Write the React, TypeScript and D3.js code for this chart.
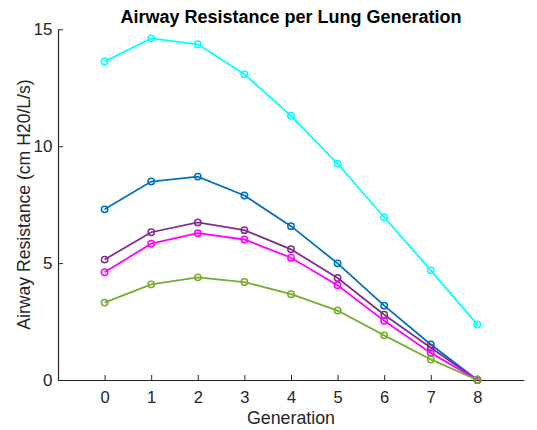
import { useRef, useEffect } from 'react';
import * as d3 from 'd3';

const generations = [0, 1, 2, 3, 4, 5, 6, 7, 8];
const cyanSeries = [13.62, 14.61, 14.36, 13.08, 11.3, 9.25, 6.96, 4.69, 2.37];
const blueSeries = [7.3, 8.49, 8.7, 7.89, 6.58, 4.99, 3.18, 1.52, 0];
const purpleSeries = [5.15, 6.32, 6.74, 6.41, 5.59, 4.36, 2.79, 1.38, 0];
const magentaSeries = [4.61, 5.83, 6.28, 6.01, 5.23, 4.05, 2.53, 1.16, 0];
const greenSeries = [3.31, 4.09, 4.39, 4.19, 3.67, 2.97, 1.91, 0.88, 0];
const yTicks = [0, 5, 10, 15];

const series = [
    { values: cyanSeries, color: '#00ffff' },
    { values: blueSeries, color: '#0072bd' },
    { values: purpleSeries, color: '#7e2f8e' },
    { values: magentaSeries, color: '#ff00ff' },
    { values: greenSeries, color: '#77ac30' },
];

export default function App() {
    const svgRef = useRef<SVGSVGElement>(null);

    useEffect(() => {
        if (!svgRef.current) return;
        const svg = d3.select(svgRef.current);
        svg.selectAll('*').remove();

        const left = 58, right = 524, top = 29.3, bottom = 380;
        const font = 'Liberation Sans, Arial, sans-serif';
        const axisColor = '#262626';

        const x = d3.scaleLinear().domain([-1, 9]).range([left, right]);
        const y = d3.scaleLinear().domain([0, 15]).range([bottom, top]);

        // Axes (MATLAB style: ticks pointing inward)
        const xAxis = svg.append('g')
            .attr('transform', `translate(0,${bottom})`)
            .call(d3.axisBottom(x).tickValues(generations).tickSizeInner(-5).tickSizeOuter(0).tickPadding(11));
        xAxis.select('.domain').attr('stroke', axisColor).attr('stroke-width', 1.2);
        xAxis.selectAll('line').attr('stroke', axisColor);
        xAxis.selectAll('text').attr('fill', axisColor).style('font-size', '16.5px').style('font-family', font);

        const yAxis = svg.append('g')
            .attr('transform', `translate(${left},0)`)
            .call(d3.axisLeft(y).tickValues(yTicks).tickSizeInner(-5).tickSizeOuter(0).tickPadding(5.5));
        yAxis.select('.domain').attr('stroke', axisColor).attr('stroke-width', 1.2);
        yAxis.selectAll('line').attr('stroke', axisColor);
        yAxis.selectAll('text').attr('fill', axisColor).style('font-size', '17px').style('font-family', font);

        const line = d3.line<number>()
            .x((_d, i) => x(generations[i]))
            .y(d => y(d));

        series.forEach(s => {
            svg.append('path')
                .datum(s.values)
                .attr('d', line)
                .attr('fill', 'none')
                .attr('stroke', s.color)
                .attr('stroke-width', 1.8);

            svg.selectAll(null)
                .data(s.values)
                .enter()
                .append('circle')
                .attr('cx', (_d, i) => x(generations[i]))
                .attr('cy', d => y(d))
                .attr('r', 3.2)
                .attr('fill', 'none')
                .attr('stroke', s.color)
                .attr('stroke-width', 1.5);
        });

        // Title and labels
        svg.append('text')
            .attr('x', (left + right) / 2)
            .attr('y', 23)
            .attr('text-anchor', 'middle')
            .style('font-family', font)
            .style('font-size', '18px')
            .style('font-weight', 'bold')
            .attr('fill', '#000')
            .text('Airway Resistance per Lung Generation');

        svg.append('text')
            .attr('x', (left + right) / 2)
            .attr('y', 424)
            .attr('text-anchor', 'middle')
            .style('font-family', font)
            .style('font-size', '17.8px')
            .attr('fill', axisColor)
            .text('Generation');

        svg.append('text')
            .attr('transform', `translate(29.5,204.5) rotate(-90)`)
            .attr('text-anchor', 'middle')
            .style('font-family', font)
            .style('font-size', '17.6px')
            .attr('fill', axisColor)
            .text('Airway Resistance (cm H20/L/s)');
    }, []);

    return (
        <svg ref={svgRef} width={537} height={430}
            style={{ position: 'absolute', left: 0, top: 0, background: '#fff' }} />
    );
}
